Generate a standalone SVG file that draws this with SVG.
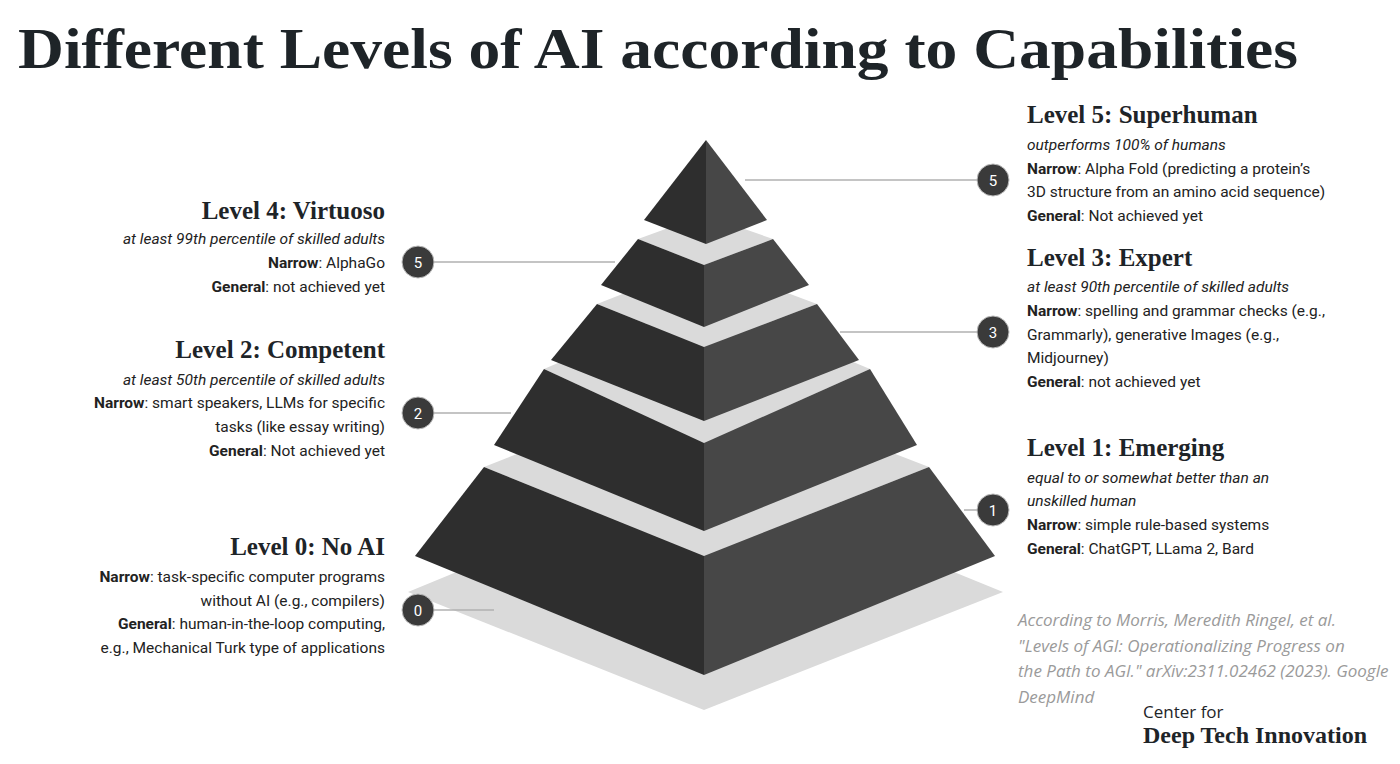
<svg xmlns="http://www.w3.org/2000/svg" width="1400" height="764" viewBox="0 0 1400 764">
<style>
.t{font-family:"Liberation Serif",serif;font-weight:bold;fill:#1e2428}
.h{font-family:"Liberation Serif",serif;font-weight:bold;font-size:25px;fill:#1e2428}
.b{font-family:Roboto,"Liberation Sans",sans-serif;font-size:15.5px;fill:#222}
.i{font-style:italic}
.r{text-anchor:end}
.bd{font-weight:bold}
.L{fill:#2e2e2e}.R{fill:#474747}.G{fill:#dadada}
.c{fill:#3a3a3a;stroke:#bbb;stroke-width:1}
.n{font-family:Roboto,"Liberation Sans",sans-serif;font-size:15px;fill:#fff;text-anchor:middle}
.ln{stroke:#b0b0b0;stroke-width:1.5;fill:none}
.cit{font-family:"Open Sans","Liberation Sans",sans-serif;font-style:italic;font-size:17px;fill:#9a9a9a}
</style>
<rect width="1400" height="764" fill="#fff"/>
<text class="t" x="18" y="68" font-size="56" textLength="1280" lengthAdjust="spacingAndGlyphs">Different Levels of AI according to Capabilities</text>
<g id="pyramid">
<polygon class="G" points="408,592 704,470 1003,592 704,710"/>
<polygon class="G" points="484,467 704,380 929,467 704,556"/>
<polygon class="G" points="544,369 704,300 870,369 704,443"/>
<polygon class="G" points="597,304 704,262 817,304 704,347"/>
<polygon class="G" points="638,239 704,215 773,239 704,265"/>
<polygon class="L" points="484,467 704,556 704,675 415,556"/>
<polygon class="R" points="929,467 704,556 704,675 995,556"/>
<polygon class="L" points="544,369 704,443 704,531 494,445"/>
<polygon class="R" points="870,369 704,443 704,531 917,445"/>
<polygon class="L" points="597,304 704,347 704,421 551,360"/>
<polygon class="R" points="817,304 704,347 704,421 859,360"/>
<polygon class="L" points="638,239 704,265 704,327 601,285"/>
<polygon class="R" points="773,239 704,265 704,327 809,285"/>
<polygon class="L" points="706,140 706,244 644,220"/>
<polygon class="R" points="706,140 706,244 767,220"/>
</g>
<g id="connectors">
<line class="ln" x1="745" y1="180" x2="977" y2="180"/>
<line class="ln" x1="434" y1="262" x2="615" y2="262"/>
<line class="ln" x1="840" y1="332" x2="977" y2="332"/>
<line class="ln" x1="434" y1="413" x2="511" y2="413"/>
<line class="ln" x1="964" y1="510" x2="977" y2="510"/>
<line class="ln" x1="434" y1="610" x2="494" y2="610"/>
</g>
<g id="m5r"><circle class="c" cx="993" cy="180" r="16"/><text class="n" x="993" y="186">5</text></g>
<g id="m5l"><circle class="c" cx="418" cy="262" r="16"/><text class="n" x="418" y="268">5</text></g>
<g id="m3"><circle class="c" cx="993" cy="332" r="16"/><text class="n" x="993" y="338">3</text></g>
<g id="m2"><circle class="c" cx="418" cy="413" r="16"/><text class="n" x="418" y="419">2</text></g>
<g id="m1"><circle class="c" cx="993" cy="510" r="16"/><text class="n" x="993" y="516">1</text></g>
<g id="m0"><circle class="c" cx="418" cy="610" r="16"/><text class="n" x="418" y="616">0</text></g>
<g id="level5">
<text class="h" x="1027" y="123">Level 5: Superhuman</text>
<text class="b i" x="1027" y="150">outperforms 100% of humans</text>
<text class="b" x="1027" y="174"><tspan class="bd">Narrow</tspan>: Alpha Fold (predicting a protein’s</text>
<text class="b" x="1027" y="197">3D structure from an amino acid sequence)</text>
<text class="b" x="1027" y="221"><tspan class="bd">General</tspan>: Not achieved yet</text>
</g>
<g id="level3">
<text class="h" x="1027" y="266">Level 3: Expert</text>
<text class="b i" x="1027" y="292">at least 90th percentile of skilled adults</text>
<text class="b" x="1027" y="316"><tspan class="bd">Narrow</tspan>: spelling and grammar checks (e.g.,</text>
<text class="b" x="1027" y="340">Grammarly), generative Images (e.g.,</text>
<text class="b" x="1027" y="363">Midjourney)</text>
<text class="b" x="1027" y="387"><tspan class="bd">General</tspan>: not achieved yet</text>
</g>
<g id="level1">
<text class="h" x="1027" y="456">Level 1: Emerging</text>
<text class="b i" x="1027" y="483">equal to or somewhat better than an</text>
<text class="b i" x="1027" y="506">unskilled human</text>
<text class="b" x="1027" y="530"><tspan class="bd">Narrow</tspan>: simple rule-based systems</text>
<text class="b" x="1027" y="554"><tspan class="bd">General</tspan>: ChatGPT, LLama 2, Bard</text>
</g>
<g id="level4">
<text class="h r" x="385" y="219">Level 4: Virtuoso</text>
<text class="b i r" x="385" y="244">at least 99th percentile of skilled adults</text>
<text class="b r" x="385" y="268"><tspan class="bd">Narrow</tspan>: AlphaGo</text>
<text class="b r" x="385" y="292"><tspan class="bd">General</tspan>: not achieved yet</text>
</g>
<g id="level2">
<text class="h r" x="385" y="358">Level 2: Competent</text>
<text class="b i r" x="385" y="385">at least 50th percentile of skilled adults</text>
<text class="b r" x="385" y="408"><tspan class="bd">Narrow</tspan>: smart speakers, LLMs for specific</text>
<text class="b r" x="385" y="432">tasks (like essay writing)</text>
<text class="b r" x="385" y="456"><tspan class="bd">General</tspan>: Not achieved yet</text>
</g>
<g id="level0">
<text class="h r" x="385" y="555">Level 0: No AI</text>
<text class="b r" x="385" y="582"><tspan class="bd">Narrow</tspan>: task-specific computer programs</text>
<text class="b r" x="385" y="606">without AI (e.g., compilers)</text>
<text class="b r" x="385" y="629"><tspan class="bd">General</tspan>: human-in-the-loop computing,</text>
<text class="b r" x="385" y="653">e.g., Mechanical Turk type of applications</text>
</g>
<g id="citation">
<text class="cit" x="1018" y="626">According to Morris, Meredith Ringel, et al.</text>
<text class="cit" x="1018" y="652">"Levels of AGI: Operationalizing Progress on</text>
<text class="cit" x="1018" y="677">the Path to AGI." arXiv:2311.02462 (2023). Google</text>
<text class="cit" x="1018" y="703">DeepMind</text>
</g>
<g id="logo">
<text x="1143" y="718" font-family="'Open Sans','Liberation Sans',sans-serif" font-size="17" fill="#1e2428">Center for</text>
<text class="t" x="1143" y="743" font-size="24">Deep Tech Innovation</text>
</g>
</svg>
